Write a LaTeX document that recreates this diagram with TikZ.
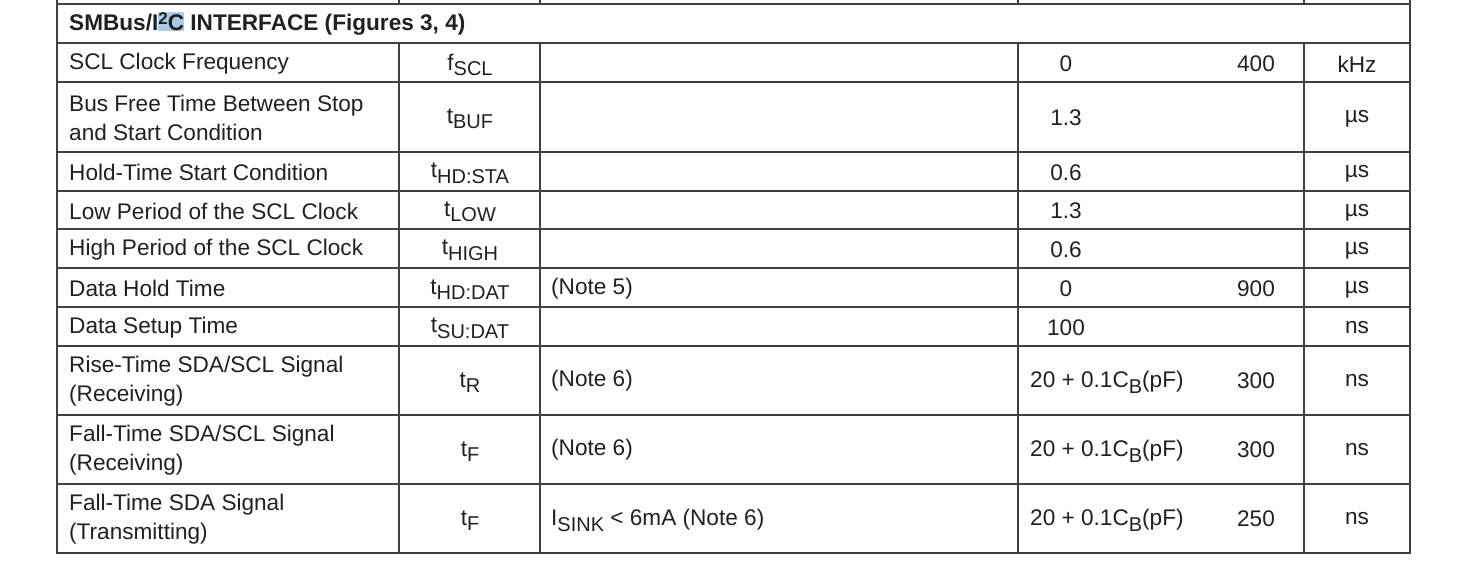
\documentclass[tikz,border=0pt]{standalone}
\usepackage{fontspec}
\setmainfont{Liberation Sans}
\definecolor{grid}{HTML}{404040}
\definecolor{txt}{HTML}{202020}
\definecolor{hilite}{HTML}{A9CBE4}
\newcommand{\lowsub}[2]{#1\raisebox{-5.5pt}{\fontsize{20}{22}\selectfont #2}}
\tikzset{
  cell/.style={anchor=west, inner sep=0pt, text=txt, align=left},
  mid/.style={inner sep=0pt, text=txt, align=center},
}
\begin{document}
\begin{tikzpicture}[x=1pt, y=-1pt, font=\fontsize{22.6}{29}\selectfont]
  \useasboundingbox (0,0) rectangle (1461,568);

  % grid
  \draw[grid, line width=1.2pt] (57,4) rectangle (1410,553);
  \foreach \yy in {43,82,152,191,229,268,307,346,415,484}
    \draw[grid, line width=1.2pt] (57,\yy) -- (1410,\yy);
  \foreach \xx in {399,540,1018,1304}
    \draw[grid, line width=1.2pt] (\xx,0) -- (\xx,4) (\xx,43) -- (\xx,553);
  \draw[grid, line width=1.2pt] (57,0) -- (57,4) (1410,0) -- (1410,4);

  % heading
  \node[cell] (head) at (69,24) {\textbf{SMBus/I{\setlength\fboxsep{0pt}\colorbox{hilite}{\raisebox{6.5pt}{\fontsize{17}{18}\selectfont 2}C}} INTERFACE (Figures 3, 4)}};

  % parameters
  \node[cell] (pFreq) at (69,64)    {SCL Clock Frequency};
  \node[cell] (pBuf)  at (69,117.5) {Bus Free Time Between Stop\\and Start Condition};
  \node[cell] (pHdSta) at (69,172.5) {Hold-Time Start Condition};
  \node[cell] (pLow)  at (69,211)   {Low Period of the SCL Clock};
  \node[cell] (pHigh) at (69,249.5) {High Period of the SCL Clock};
  \node[cell] (pHdDat) at (69,288.5) {Data Hold Time};
  \node[cell] (pSuDat) at (69,327.5) {Data Setup Time};
  \node[cell] (pRise) at (69,381) {Rise-Time SDA/SCL Signal\\(Receiving)};
  \node[cell] (pFall) at (69,450) {Fall-Time SDA/SCL Signal\\(Receiving)};
  \node[cell] (pFallT) at (69,519) {Fall-Time SDA Signal\\(Transmitting)};

  % symbols
  \node[mid] (sFreq) at (470,65)    {\lowsub{f}{SCL}};
  \node[mid] (sBuf)  at (470,119)   {\lowsub{t}{BUF}};
  \node[mid] (sHdSta) at (470,173.5) {\lowsub{t}{HD:STA}};
  \node[mid] (sLow)  at (470,212)   {\lowsub{t}{LOW}};
  \node[mid] (sHigh) at (470,250.5) {\lowsub{t}{HIGH}};
  \node[mid] (sHdDat) at (470,289.5) {\lowsub{t}{HD:DAT}};
  \node[mid] (sSuDat) at (470,328.5) {\lowsub{t}{SU:DAT}};
  \node[mid] (sRise) at (470,382.5) {\lowsub{t}{R}};
  \node[mid] (sFall) at (470,451.5) {\lowsub{t}{F}};
  \node[mid] (sFallT) at (470,520.5) {\lowsub{t}{F}};

  % conditions
  \node[cell] (cHdDat) at (551,288.5) {(Note 5)};
  \node[cell] (cRise) at (551,381) {(Note 6)};
  \node[cell] (cFall) at (551,450) {(Note 6)};
  \node[cell] (cFallT) at (551,520.5) {\lowsub{I}{SINK} < 6mA (Note 6)};

  % min
  \node[mid] (mFreq) at (1066,64)    {0};
  \node[mid] (mBuf)  at (1066,117.5) {1.3};
  \node[mid] (mHdSta) at (1066,172.5) {0.6};
  \node[mid] (mLow)  at (1066,211)   {1.3};
  \node[mid] (mHigh) at (1066,249.5) {0.6};
  \node[mid] (mHdDat) at (1066,288.5) {0};
  \node[mid] (mSuDat) at (1066,327.5) {100};
  \node[cell] (mRise) at (1030,382.5) {20 + 0.1\lowsub{C}{B}(pF)};
  \node[cell] (mFall) at (1030,451.5) {20 + 0.1\lowsub{C}{B}(pF)};
  \node[cell] (mFallT) at (1030,520.5) {20 + 0.1\lowsub{C}{B}(pF)};

  % max
  \node[mid] (xFreq) at (1256,64)    {400};
  \node[mid] (xHdDat) at (1256,288.5) {900};
  \node[mid] (xRise) at (1256,381) {300};
  \node[mid] (xFall) at (1256,450) {300};
  \node[mid] (xFallT) at (1256,519) {250};

  % units
  \node[mid] (uFreq) at (1357,64)    {kHz};
  \node[mid] (uBuf)  at (1357,119)   {µs};
  \node[mid] (uHdSta) at (1357,174) {µs};
  \node[mid] (uLow)  at (1357,212.5) {µs};
  \node[mid] (uHigh) at (1357,251) {µs};
  \node[mid] (uHdDat) at (1357,290) {µs};
  \node[mid] (uSuDat) at (1357,327.5) {ns};
  \node[mid] (uRise) at (1357,381) {ns};
  \node[mid] (uFall) at (1357,450) {ns};
  \node[mid] (uFallT) at (1357,519) {ns};
\end{tikzpicture}
\end{document}
